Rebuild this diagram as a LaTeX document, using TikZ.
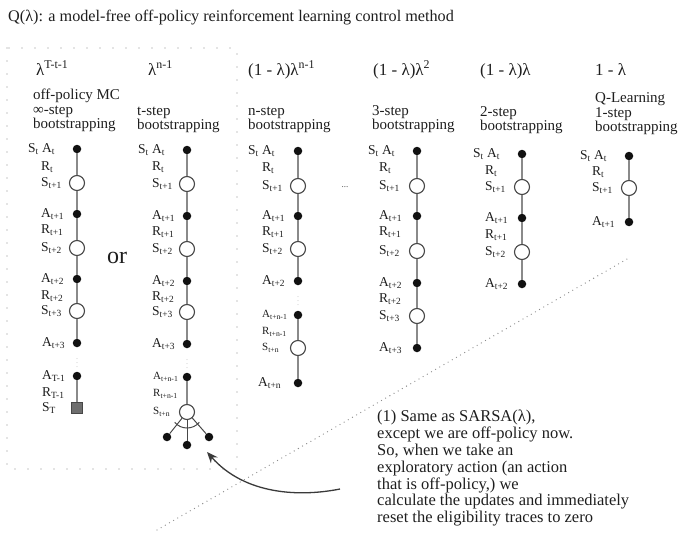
\documentclass[tikz,border=0pt]{standalone}
\usepackage{fontspec}
\setmainfont{Liberation Serif}
\usepackage{tikz}
\usetikzlibrary{arrows.meta}
\definecolor{QLink}{HTML}{8A8A8A}
\definecolor{QRing}{HTML}{474747}
\definecolor{QDot}{HTML}{111111}
\definecolor{QTerm}{HTML}{6E6E6E}
\definecolor{QFrame}{HTML}{8C8C8C}
\definecolor{QArrow}{HTML}{3A3A3A}
\definecolor{QText}{HTML}{1E1E1E}

\begin{document}
\begin{tikzpicture}[x=1pt,y=-1pt,
  actnode/.style={circle,fill=QDot,inner sep=0pt,minimum size=8.5pt},
  stnode/.style={circle,draw=QRing,fill=white,line width=1.1pt,inner sep=0pt,minimum size=15pt},
  termnode/.style={rectangle,draw=QRing,fill=QTerm,line width=0.8pt,inner sep=0pt,minimum size=11pt},
  lbl/.style={anchor=west,inner sep=0pt,text=QText,font=\fontsize{13.5}{14}\selectfont},
  lblsm/.style={anchor=west,inner sep=0pt,text=QText,font=\fontsize{11}{12}\selectfont},
  headtxt/.style={anchor=base west,inner sep=0pt,text=QText,font=\fontsize{17}{18}\selectfont},
  desctxt/.style={anchor=south west,align=left,inner sep=0pt,text=QText,font=\fontsize{15}{14.5}\selectfont},
  link/.style={draw=QLink,line width=1.1pt},
  gapdots/.style={inner sep=0pt,text=QLink,font=\fontsize{6}{6}\selectfont}]
  \useasboundingbox (0,0) rectangle (680,538);

  \node[anchor=base west,inner sep=0pt,text=QText,font=\fontsize{16.2}{18}\selectfont] (title)
    at (8,21) {Q(λ): a model-free off-policy reinforcement learning control method};

  % dotted frame round the two full-length backups
  \draw[QFrame,line width=1.3pt,line cap=round,dash pattern=on 0pt off 13pt]
    (7,48) rectangle (237,469);
  \draw[QFrame,line width=1.3pt,line cap=round,dash pattern=on 0pt off 4.8pt]
    (157,530) -- (627,259);

  % off-policy MC
  \node[headtxt] (mcHead) at (36,75) {λ\textsuperscript{T-t-1}};
  \node[desctxt] (mcDesc) at (33,132) {off-policy MC\\∞-step\\bootstrapping};
  \node[actnode] (mcA0) at (77,149) {};
  \node[stnode] (mcS1) at (77,183) {};
  \node[actnode] (mcA1) at (77,214) {};
  \node[stnode] (mcS2) at (77,248) {};
  \node[actnode] (mcA2) at (77,279) {};
  \node[stnode] (mcS3) at (77,311) {};
  \node[actnode] (mcA3) at (77,343) {};
  \node[gapdots] (mcGap) at (77,360) {$\vdots$};
  \node[actnode] (mcAT) at (77,376) {};
  \node[termnode] (mcST) at (77,408) {};
  \node[lbl] (mcA0l) at (28,149) {S\textsubscript{t} A\textsubscript{t}};
  \node[lbl] (mcR0l) at (41,167) {R\textsubscript{t}};
  \node[lbl] (mcS1l) at (41,183) {S\textsubscript{t+1}};
  \node[lbl] (mcA1l) at (41,214) {A\textsubscript{t+1}};
  \node[lbl] (mcR1l) at (41,230) {R\textsubscript{t+1}};
  \node[lbl] (mcS2l) at (41,248) {S\textsubscript{t+2}};
  \node[lbl] (mcA2l) at (41,279) {A\textsubscript{t+2}};
  \node[lbl] (mcR2l) at (41,296) {R\textsubscript{t+2}};
  \node[lbl] (mcS3l) at (41,311) {S\textsubscript{t+3}};
  \node[lbl] (mcA3l) at (42,343) {A\textsubscript{t+3}};
  \node[lbl] (mcATl) at (42,376) {A\textsubscript{T-1}};
  \node[lbl] (mcRTl) at (42,393) {R\textsubscript{T-1}};
  \node[lbl] (mcSTl) at (42,408) {S\textsubscript{T}};
  \draw[link] (mcA0) -- (mcS1) -- (mcA1) -- (mcS2) -- (mcA2) -- (mcS3) -- (mcA3);
  \draw[link] (mcAT) -- (mcST);

  \node[anchor=center,inner sep=0pt,text=QText,font=\fontsize{24}{24}\selectfont] (orTxt)
    at (117,258) {or};

  % t-step
  \node[headtxt] (tsHead) at (148,75) {λ\textsuperscript{n-1}};
  \node[desctxt] (tsDesc) at (137,133) {t-step\\bootstrapping};
  \node[actnode] (tsA0) at (187,150) {};
  \node[stnode] (tsS1) at (187,184) {};
  \node[actnode] (tsA1) at (187,216) {};
  \node[stnode] (tsS2) at (187,249) {};
  \node[actnode] (tsA2) at (187,281) {};
  \node[stnode] (tsS3) at (187,312) {};
  \node[actnode] (tsA3) at (187,344) {};
  \node[gapdots] (tsGap) at (187,361) {$\vdots$};
  \node[actnode] (tsAn) at (187,377) {};
  \node[stnode] (tsSn) at (187,412) {};
  \node[actnode] (tsL1) at (167,437) {};
  \node[actnode] (tsL2) at (187,445) {};
  \node[actnode] (tsL3) at (209,437) {};
  \node[lbl] (tsA0l) at (138,150) {S\textsubscript{t} A\textsubscript{t}};
  \node[lbl] (tsR0l) at (152,167) {R\textsubscript{t}};
  \node[lbl] (tsS1l) at (152,184) {S\textsubscript{t+1}};
  \node[lbl] (tsA1l) at (152,216) {A\textsubscript{t+1}};
  \node[lbl] (tsR1l) at (152,232) {R\textsubscript{t+1}};
  \node[lbl] (tsS2l) at (152,249) {S\textsubscript{t+2}};
  \node[lbl] (tsA2l) at (152,281) {A\textsubscript{t+2}};
  \node[lbl] (tsR2l) at (152,297) {R\textsubscript{t+2}};
  \node[lbl] (tsS3l) at (152,312) {S\textsubscript{t+3}};
  \node[lbl] (tsA3l) at (152,344) {A\textsubscript{t+3}};
  \node[lblsm] (tsAnl) at (153,377) {A\textsubscript{t+n-1}};
  \node[lblsm] (tsRnl) at (153,394) {R\textsubscript{t+n-1}};
  \node[lblsm] (tsSnl) at (153,412) {S\textsubscript{t+n}};
  \draw[link] (tsA0) -- (tsS1) -- (tsA1) -- (tsS2) -- (tsA2) -- (tsS3) -- (tsA3);
  \draw[link] (tsAn) -- (tsSn);
  \draw[draw=QRing,line width=1pt] (tsSn) -- (tsL1);
  \draw[draw=QRing,line width=1pt] (tsSn) -- (tsL2);
  \draw[draw=QRing,line width=1pt] (tsSn) -- (tsL3);
  \draw[draw=QRing,line width=1pt] (174.7,422.3) .. controls (181.1,429.9) and (192.9,429.9) .. (199.3,422.3);

  % n-step
  \node[headtxt] (nsHead) at (248,75) {(1 - λ)λ\textsuperscript{n-1}};
  \node[desctxt] (nsDesc) at (248,133) {n-step\\bootstrapping};
  \node[actnode] (nsA0) at (298,151) {};
  \node[stnode] (nsS1) at (298,186) {};
  \node[actnode] (nsA1) at (298,216) {};
  \node[stnode] (nsS2) at (298,249) {};
  \node[actnode] (nsA2) at (298,281) {};
  \node[gapdots] (nsGap) at (298,298) {$\vdots$};
  \node[actnode] (nsAm) at (298,315) {};
  \node[stnode] (nsSn) at (298,348) {};
  \node[actnode] (nsAn) at (298,383) {};
  \node[lbl] (nsA0l) at (248,151) {S\textsubscript{t} A\textsubscript{t}};
  \node[lbl] (nsR0l) at (262,168) {R\textsubscript{t}};
  \node[lbl] (nsS1l) at (262,186) {S\textsubscript{t+1}};
  \node[lbl] (nsA1l) at (262,216) {A\textsubscript{t+1}};
  \node[lbl] (nsR1l) at (262,232) {R\textsubscript{t+1}};
  \node[lbl] (nsS2l) at (262,249) {S\textsubscript{t+2}};
  \node[lbl] (nsA2l) at (262,281) {A\textsubscript{t+2}};
  \node[lblsm] (nsAml) at (262,315) {A\textsubscript{t+n-1}};
  \node[lblsm] (nsRml) at (262,332) {R\textsubscript{t+n-1}};
  \node[lblsm] (nsSnl) at (262,348) {S\textsubscript{t+n}};
  \node[lbl] (nsAnl) at (258,383) {A\textsubscript{t+n}};
  \draw[link] (nsA0) -- (nsS1) -- (nsA1) -- (nsS2) -- (nsA2);
  \draw[link] (nsAm) -- (nsSn) -- (nsAn);

  \node[gapdots,text=QRing,font=\fontsize{9}{9}\selectfont] (midGap) at (345,187) {...};

  % 3-step
  \node[headtxt] (thHead) at (373,75) {(1 - λ)λ\textsuperscript{2}};
  \node[desctxt] (thDesc) at (372,133) {3-step\\bootstrapping};
  \node[actnode] (thA0) at (417,151) {};
  \node[stnode] (thS1) at (417,186) {};
  \node[actnode] (thA1) at (417,216) {};
  \node[stnode] (thS2) at (417,251) {};
  \node[actnode] (thA2) at (417,283) {};
  \node[stnode] (thS3) at (417,316) {};
  \node[actnode] (thA3) at (417,348) {};
  \node[lbl] (thA0l) at (368,151) {S\textsubscript{t} A\textsubscript{t}};
  \node[lbl] (thR0l) at (379,168) {R\textsubscript{t}};
  \node[lbl] (thS1l) at (379,186) {S\textsubscript{t+1}};
  \node[lbl] (thA1l) at (379,216) {A\textsubscript{t+1}};
  \node[lbl] (thR1l) at (379,232) {R\textsubscript{t+1}};
  \node[lbl] (thS2l) at (379,251) {S\textsubscript{t+2}};
  \node[lbl] (thA2l) at (379,283) {A\textsubscript{t+2}};
  \node[lbl] (thR2l) at (379,299) {R\textsubscript{t+2}};
  \node[lbl] (thS3l) at (379,316) {S\textsubscript{t+3}};
  \node[lbl] (thA3l) at (379,348) {A\textsubscript{t+3}};
  \draw[link] (thA0) -- (thS1) -- (thA1) -- (thS2) -- (thA2) -- (thS3) -- (thA3);

  % 2-step
  \node[headtxt] (twHead) at (480,75) {(1 - λ)λ};
  \node[desctxt] (twDesc) at (480,134) {2-step\\bootstrapping};
  \node[actnode] (twA0) at (522,154) {};
  \node[stnode] (twS1) at (522,187) {};
  \node[actnode] (twA1) at (522,218) {};
  \node[stnode] (twS2) at (522,252) {};
  \node[actnode] (twA2) at (522,284) {};
  \node[lbl] (twA0l) at (473,154) {S\textsubscript{t} A\textsubscript{t}};
  \node[lbl] (twR0l) at (485,171) {R\textsubscript{t}};
  \node[lbl] (twS1l) at (485,187) {S\textsubscript{t+1}};
  \node[lbl] (twA1l) at (485,218) {A\textsubscript{t+1}};
  \node[lbl] (twR1l) at (485,235) {R\textsubscript{t+1}};
  \node[lbl] (twS2l) at (485,252) {S\textsubscript{t+2}};
  \node[lbl] (twA2l) at (485,284) {A\textsubscript{t+2}};
  \draw[link] (twA0) -- (twS1) -- (twA1) -- (twS2) -- (twA2);

  % Q-learning
  \node[headtxt] (qlHead) at (595,75) {1 - λ};
  \node[desctxt] (qlDesc) at (595,135) {Q-Learning\\1-step\\bootstrapping};
  \node[actnode] (qlA0) at (629,156) {};
  \node[stnode] (qlS1) at (629,188) {};
  \node[actnode] (qlA1) at (629,222) {};
  \node[lbl] (qlA0l) at (580,156) {S\textsubscript{t} A\textsubscript{t}};
  \node[lbl] (qlR0l) at (592,172) {R\textsubscript{t}};
  \node[lbl] (qlS1l) at (592,188) {S\textsubscript{t+1}};
  \node[lbl] (qlA1l) at (592,222) {A\textsubscript{t+1}};
  \draw[link] (qlA0) -- (qlS1) -- (qlA1);

  % note (1)
  \node[anchor=north west,align=left,inner sep=0pt,text=QText,font=\fontsize{16.5}{16.8}\selectfont]
    (note) at (377,410) {(1) Same as SARSA(λ),\\except we are off-policy now.\\So, when we take an\\exploratory action (an action\\that is off-policy,) we\\calculate the updates and immediately\\reset the eligibility traces to zero};
  \coordinate (noteTail) at (340,489);
  \coordinate (treeTip) at (207,452);
  \draw[-{Stealth[length=11pt,width=9pt]},QArrow,line width=1.3pt]
    (noteTail) .. controls (300,497) and (245,495) .. (treeTip);
\end{tikzpicture}
\end{document}
